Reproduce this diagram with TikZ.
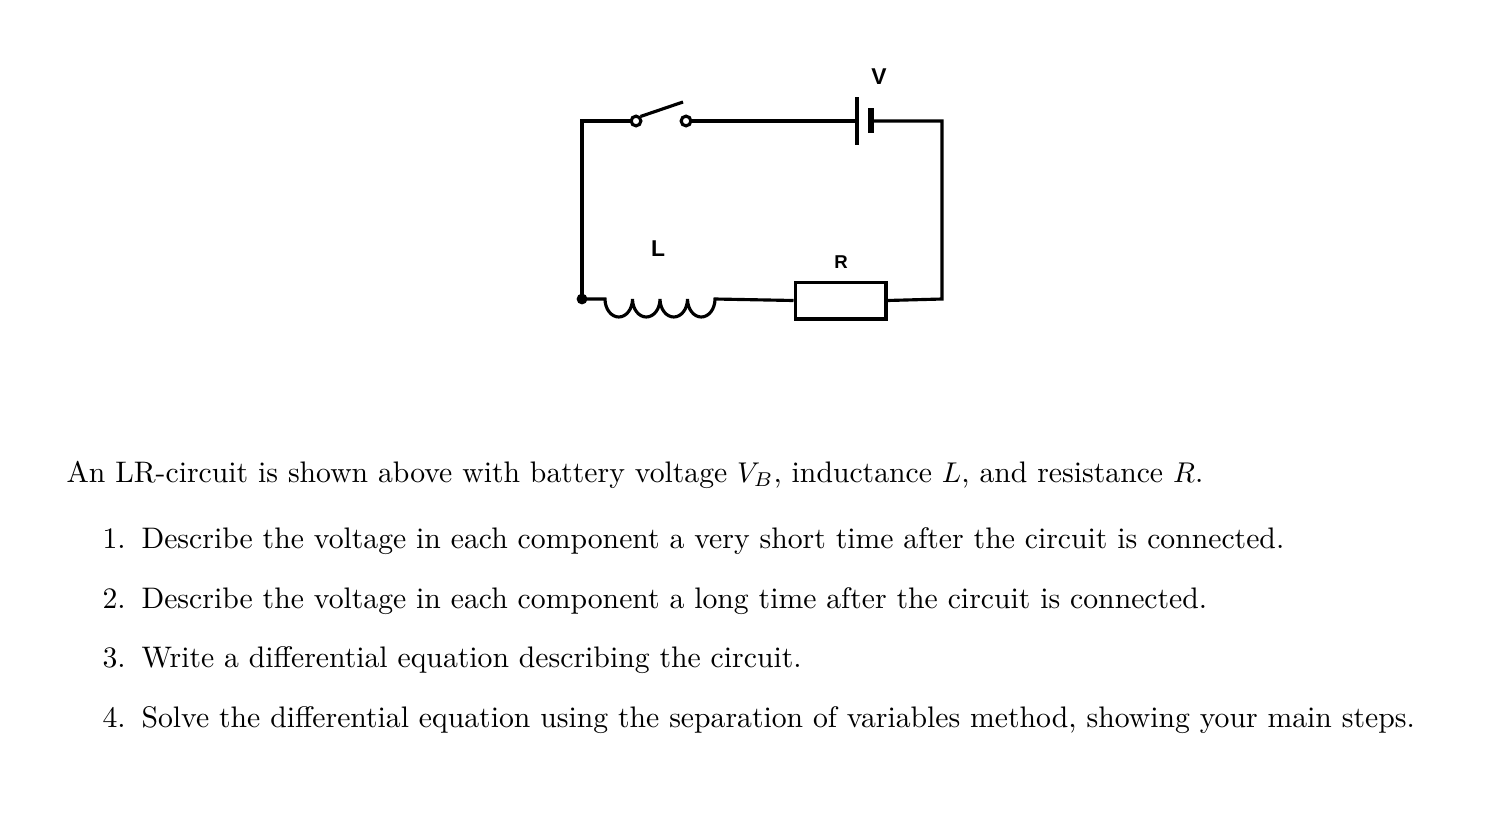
\documentclass[tikz,border=0pt]{standalone}
\usepackage{fontspec}
\newfontfamily\lab{Liberation Sans}
\begin{document}
\begin{tikzpicture}[x=0.35pt,y=-0.35pt,
  wire/.style={line width=1.1pt},
  lbl/.style={font=\lab\bfseries, inner sep=0pt},
  txt/.style={anchor=base west, inner sep=0pt, font=\fontsize{10.4}{12}\selectfont}]
\useasboundingbox (0,0) rectangle (1496,822);
\coordinate (tl) at (582,121);
\coordinate (tr) at (942,121);
\coordinate (br) at (942,299);
\coordinate (bl) at (582,299);
\node[circle, draw, line width=1.1pt, minimum size=3.4pt, inner sep=0pt] (s1) at (636,121) {};
\node[circle, draw, line width=1.1pt, minimum size=3.4pt, inner sep=0pt] (s2) at (686,121) {};
\coordinate (lev) at (683,102);
\coordinate (b1) at (857,121);
\coordinate (b2) at (871,121);
\coordinate (i1) at (605,299);
\coordinate (i2) at (715,299);
\node[draw, line width=1.1pt, minimum width=31.8pt, minimum height=12.9pt, inner sep=0pt] (res) at (840.5,300.5) {};
\fill (bl) circle (1.9pt);
\draw[wire] (bl) -- (tl) -- (s1.west);
\draw[wire] (s1.north east) -- (lev);
\draw[wire] (s2.east) -- (b1);
\draw[wire] (857,97) -- (857,145);
\draw[line width=2.2pt] (871,108) -- (871,133);
\draw[wire] (b2) -- (tr) -- (br) -- (res.east);
\draw[wire] (res.west) -- (i2);
\draw[wire] (bl) -- (i1) arc[start angle=180,end angle=0,x radius=13.75,y radius=18]
  arc[start angle=180,end angle=0,x radius=13.75,y radius=18]
  arc[start angle=180,end angle=0,x radius=13.75,y radius=18]
  arc[start angle=180,end angle=0,x radius=13.75,y radius=18] -- (i2);
\node[lbl, font=\lab\bfseries\fontsize{8}{9}\selectfont] (lv) at (879,77) {V};
\node[lbl, font=\lab\bfseries\fontsize{8}{9}\selectfont] (ll) at (658,249) {L};
\node[lbl, font=\lab\bfseries\fontsize{6.5}{8}\selectfont] (lr) at (841,262) {R};
\node[txt] (t0) at (66,482) {An LR-circuit is shown above with battery voltage $V_B$, inductance $L$, and resistance $R$.};
\node[txt] (n1) at (102,548) {1.};
\node[txt] (t1) at (141,548) {Describe the voltage in each component a very short time after the circuit is connected.};
\node[txt] (n2) at (102,608) {2.};
\node[txt] (t2) at (141,608) {Describe the voltage in each component a long time after the circuit is connected.};
\node[txt] (n3) at (102,667) {3.};
\node[txt] (t3) at (141,667) {Write a differential equation describing the circuit.};
\node[txt] (n4) at (102,727) {4.};
\node[txt] (t4) at (141,727) {Solve the differential equation using the separation of variables method, showing your main steps.};
\end{tikzpicture}
\end{document}
